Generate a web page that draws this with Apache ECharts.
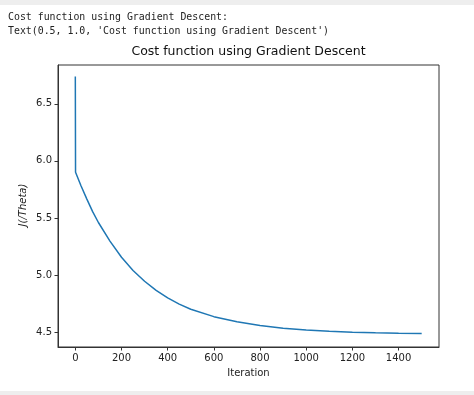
<!DOCTYPE html>
<html>
<head>
<meta charset="utf-8">
<script src="https://cdn.jsdelivr.net/npm/echarts@6/dist/echarts.min.js"></script>
<style>html,body{margin:0;padding:0;background:#fff;}#c{width:474px;height:395px;}</style>
</head>
<body>
<div id="c"></div>
<script>
// Data
const iterations = [0, 1, 25, 50, 75, 100, 150, 200, 250, 300, 350, 400, 450, 500, 600, 700, 800, 900, 1000, 1100, 1200, 1300, 1400, 1500];
const costValues = [6.74, 5.90, 5.78, 5.665, 5.555, 5.46, 5.297, 5.155, 5.04, 4.945, 4.865, 4.80, 4.745, 4.70, 4.635, 4.59, 4.558, 4.534, 4.518, 4.506, 4.498, 4.493, 4.490, 4.488];
const xTickLabels = [0, 200, 400, 600, 800, 1000, 1200, 1400];
const yTickLabels = [4.5, 5.0, 5.5, 6.0, 6.5];

const chart = echarts.init(document.getElementById('c'), null, {renderer: 'canvas'});
const tickFont = {fontFamily: 'DejaVu Sans', fontSize: 10, color: '#222'};
chart.setOption({
  animation: false,
  backgroundColor: '#fff',
  graphic: [
    {type: 'rect', shape: {x: 0, y: 0, width: 474, height: 5}, style: {fill: '#eeeeee'}},
    {type: 'rect', shape: {x: 0, y: 391, width: 474, height: 4}, style: {fill: '#eeeeee'}},
    {type: 'text', left: 8, top: 12, style: {text: 'Cost function using Gradient Descent:', font: '9.9px "DejaVu Sans Mono"', fill: '#222'}},
    {type: 'text', left: 8, top: 26, style: {text: "Text(0.5, 1.0, 'Cost function using Gradient Descent')", font: '9.9px "DejaVu Sans Mono"', fill: '#222'}},
    {type: 'text', x: 248.5, y: 52, style: {text: 'Cost function using Gradient Descent', font: '12.5px "DejaVu Sans"', fill: '#111', align: 'center', verticalAlign: 'middle'}},
    {type: 'text', x: 248.5, y: 373, style: {text: 'Iteration', font: '10px "DejaVu Sans"', fill: '#222', align: 'center', verticalAlign: 'middle'}},
    {type: 'text', x: 23, y: 205, rotation: Math.PI / 2, style: {text: 'J(/Theta)', font: 'italic 10px "DejaVu Sans"', fill: '#222', align: 'center', verticalAlign: 'middle'}}
  ],
  grid: {left: 58, top: 65, width: 381, height: 282, show: true, borderColor: '#333', borderWidth: 1, backgroundColor: '#fff'},
  xAxis: {
    type: 'value', min: -75, max: 1575,
    axisLine: {show: true, onZero: false, lineStyle: {color: '#333', width: 1}},
    axisTick: {show: true, length: 3.5, inside: false, customValues: xTickLabels, lineStyle: {color: '#333'}},
    axisLabel: Object.assign({customValues: xTickLabels, margin: 6, formatter: v => String(v)}, tickFont),
    splitLine: {show: false}
  },
  yAxis: {
    type: 'value', min: 4.369, max: 6.84,
    axisLine: {show: true, onZero: false, lineStyle: {color: '#333', width: 1}},
    axisTick: {show: true, length: 3.5, inside: false, customValues: yTickLabels, lineStyle: {color: '#333'}},
    axisLabel: Object.assign({customValues: yTickLabels, margin: 6, formatter: v => v.toFixed(1)}, tickFont),
    splitLine: {show: false}
  },
  series: [{
    type: 'line',
    data: iterations.map((it, i) => [it, costValues[i]]),
    smooth: false,
    showSymbol: false,
    lineStyle: {color: '#1f77b4', width: 1.5},
    itemStyle: {color: '#1f77b4'}
  }]
});
</script>
</body>
</html>
